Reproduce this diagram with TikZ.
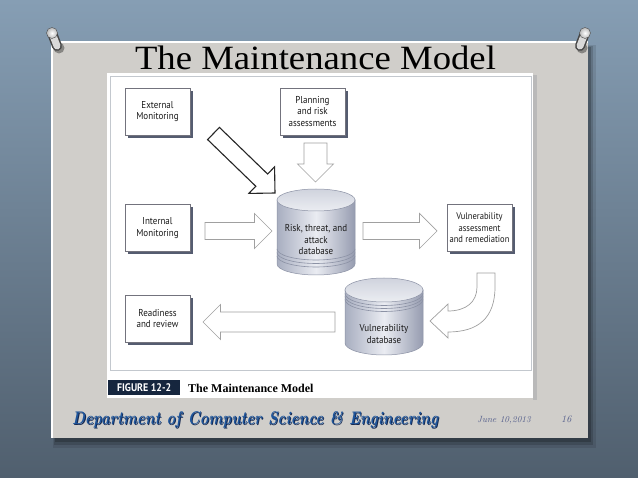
\documentclass[tikz,border=0pt]{standalone}
\usepackage{fontspec}
\usetikzlibrary{calc,shadows}
\newfontfamily\figfont[FakeStretch=0.9]{PT Sans}
\newfontfamily\titlefont[FakeStretch=1.08]{Liberation Serif}
\newfontfamily\capfont{Liberation Serif}
\definecolor{bgtop}{RGB}{134,158,180}
\definecolor{bgbot}{RGB}{80,95,110}
\definecolor{panelcol}{RGB}{208,206,202}
\definecolor{navy}{RGB}{22,38,62}
\definecolor{boxborder}{RGB}{115,115,125}
\definecolor{boxshade}{RGB}{85,92,112}
\definecolor{arrgrey}{RGB}{160,160,160}
\definecolor{footblue}{RGB}{30,85,155}
\definecolor{footdark}{RGB}{20,40,80}
\definecolor{dategrey}{RGB}{85,95,140}
\definecolor{cylL}{RGB}{168,174,192}
\definecolor{cylM}{RGB}{234,236,242}
\definecolor{cylR}{RGB}{150,156,176}
\definecolor{cylTop}{RGB}{222,225,233}
\definecolor{cylEdge}{RGB}{140,146,165}
\definecolor{framecol}{RGB}{195,200,206}
\newcommand\blockarrow[5]{% style, tail, tip, half shaft, half head
  \coordinate (ba) at ($(#3)!#5pt!(#2)$);
  \draw[#1] ($(#2)!#4pt!90:(#3)$) -- ($(ba)!#4pt!90:(#3)$) -- ($(ba)!#5pt!90:(#3)$)
    -- (#3) -- ($(ba)!#5pt!-90:(#3)$) -- ($(ba)!#4pt!-90:(#3)$) -- ($(#2)!#4pt!-90:(#3)$) -- cycle;}
\newcommand\dbcyl[5]{% cx, top y, bottom y, rx, ry
  \shade[left color=cylL, right color=cylR, middle color=cylM, draw=cylEdge, line width=0.5pt]
    (#1-#4,#2) -- (#1-#4,#3) arc[start angle=180, end angle=0, x radius=#4, y radius=#5] -- (#1+#4,#2) -- cycle;
  \shade[top color=cylTop!80!cylR, bottom color=cylTop!60!white, draw=cylEdge, line width=0.5pt]
    (#1,#2) ellipse[x radius=#4, y radius=#5];}
\newcommand\cylline[4]{% cx, y, rx, ry
  \draw[cylEdge, line width=0.6pt] (#1-#3,#2) arc[start angle=180, end angle=0, x radius=#3, y radius=#4];}
\newcommand\pin[4]{% head x,y ; base x,y
  \fill[black, opacity=0.35] (#3+2,#4+2) circle (5.5pt);
  \draw[line width=10pt, line cap=round, color=gray!55!black] (#3,#4) -- (#1,#2);
  \draw[line width=7pt, line cap=round, color=gray!30] (#3,#4) -- (#1,#2);
  \shade[inner color=white, outer color=gray!55, draw=gray!60!black, line width=0.4pt] (#1,#2) circle (5.5pt);}
\newcommand\depttext{\resizebox{366pt}{13pt}{Department of Computer Science \& Engineering}}
\begin{document}
\begin{tikzpicture}[x=1pt,y=-1pt,
  fbox/.style={draw=boxborder, fill=white, line width=0.6pt, minimum width=65pt, minimum height=47pt,
    align=center, inner sep=1pt, font=\figfont\fontsize{10}{11.5}\selectfont, text=black!90,
    general shadow={fill=boxshade, shadow xshift=3pt, shadow yshift=-3pt}},
  cyltext/.style={align=center, inner sep=0pt, font=\figfont\fontsize{10}{11.5}\selectfont, text=black!90},
  greyarr/.style={draw=arrgrey, fill=white, line width=0.7pt, line join=miter},
  blackarr/.style={draw=black!85, fill=white, line width=1.1pt, line join=miter},
  foot/.style={anchor=base west, inner sep=0pt, font=\bfseries\itshape\fontsize{17}{17}\selectfont}]
\useasboundingbox (0,0) rectangle (638,478);
% background
\shade[top color=bgtop, bottom color=bgbot] (0,0) rectangle (638,478);
% panel shadow
\fill[black, opacity=0.10] (53,45) rectangle (596,448);
\fill[black, opacity=0.15] (54,46) rectangle (593,445);
\fill[black, opacity=0.20] (55,47) rectangle (591,442);
% panel
\fill[panelcol] (51,41) rectangle (588,438);
\draw[white, line width=1.6pt] (51.8,438) -- (51.8,41.8) -- (588,41.8);
% pins
\pin{52}{33}{57}{46}
\pin{585}{33}{580}{46}
% title
\node[font=\titlefont\fontsize{34}{34}\selectfont, anchor=base, inner sep=0pt] (title) at (315.5,70) {The Maintenance Model};
% figure area
\fill[gray!55] (533,75) rectangle (537,400);
\fill[white] (107,73) rectangle (533,398);
\draw[framecol, line width=0.6pt] (110,76) rectangle (531,370);
% caption
\node[fill=navy, text=white, font=\figfont\bfseries\fontsize{11}{12}\selectfont, minimum width=72pt,
  minimum height=15pt, inner sep=0pt, anchor=west] (figlabel) at (108,387.5) {FIGURE 12-2};
\node[font=\capfont\bfseries\fontsize{12}{12}\selectfont, anchor=base west, inner sep=0pt] (figcap) at (188,393) {The Maintenance Model};
% boxes
\node[fbox] (ext) at (157.5,111.5) {External\\Monitoring};
\node[fbox] (plan) at (312.5,111.5) {Planning\\and risk\\assessments};
\node[fbox] (int) at (157.5,228) {Internal\\Monitoring};
\node[fbox, font=\figfont\fontsize{9.5}{11.5}\selectfont] (vass) at (479.5,228) {Vulnerability\\assessment\\and remediation};
\node[fbox] (ready) at (157.5,318.5) {Readiness\\and review};
% cylinders
\dbcyl{316}{200}{264}{39}{11}
\cylline{316}{249}{39}{11}
\cylline{316}{252.5}{39}{11}
\cylline{316}{256}{39}{11}
\node[cyltext] (db1) at (316,240) {Risk, threat, and\\attack\\database};
\dbcyl{384}{290}{343}{39}{12}
\cylline{384}{293.5}{39}{12}
\cylline{384}{296.5}{39}{12}
\cylline{384}{299.5}{39}{12}
\node[cyltext] (db2) at (384,334) {Vulnerability\\database};
% arrows
\coordinate (a1t) at (213.5,133.5); \coordinate (a1h) at (275,193);
\blockarrow{blackarr}{a1t}{a1h}{8.5}{18.5}
\coordinate (a2t) at (315.5,143); \coordinate (a2h) at (315.5,182);
\blockarrow{greyarr}{a2t}{a2h}{11.5}{18}
\coordinate (a3t) at (205,231); \coordinate (a3h) at (272,231);
\blockarrow{greyarr}{a3t}{a3h}{8.5}{17.5}
\coordinate (a4t) at (363,231); \coordinate (a4h) at (437,231);
\blockarrow{greyarr}{a4t}{a4h}{8.5}{17.5}
\coordinate (a5t) at (335,322); \coordinate (a5h) at (203,322);
\blockarrow{greyarr}{a5t}{a5h}{10}{17.5}
\coordinate (a6t) at (486,273); \coordinate (a6h) at (430,321);
\draw[greyarr] (477,273) -- (495,273) -- (495,287) .. controls (495,318) and (478,332) .. (448,332)
  -- (448,338) -- (a6h) -- (448,304) -- (448,311) .. controls (466,311) and (477,302) .. (477,287) -- cycle;
% footer
\node[foot, text=footdark] (deptshadow) at (72.8,425.8) {\depttext};
\node[foot, text=footblue] (dept) at (72,425) {\depttext};
\node[anchor=base west, inner sep=0pt, text=dategrey, font=\itshape\fontsize{9}{9}\selectfont] (date) at (477,423) {June 10,2013};
\node[anchor=base west, inner sep=0pt, text=dategrey, font=\itshape\fontsize{10}{10}\selectfont] (pg) at (561,423) {16};
\end{tikzpicture}
\end{document}
